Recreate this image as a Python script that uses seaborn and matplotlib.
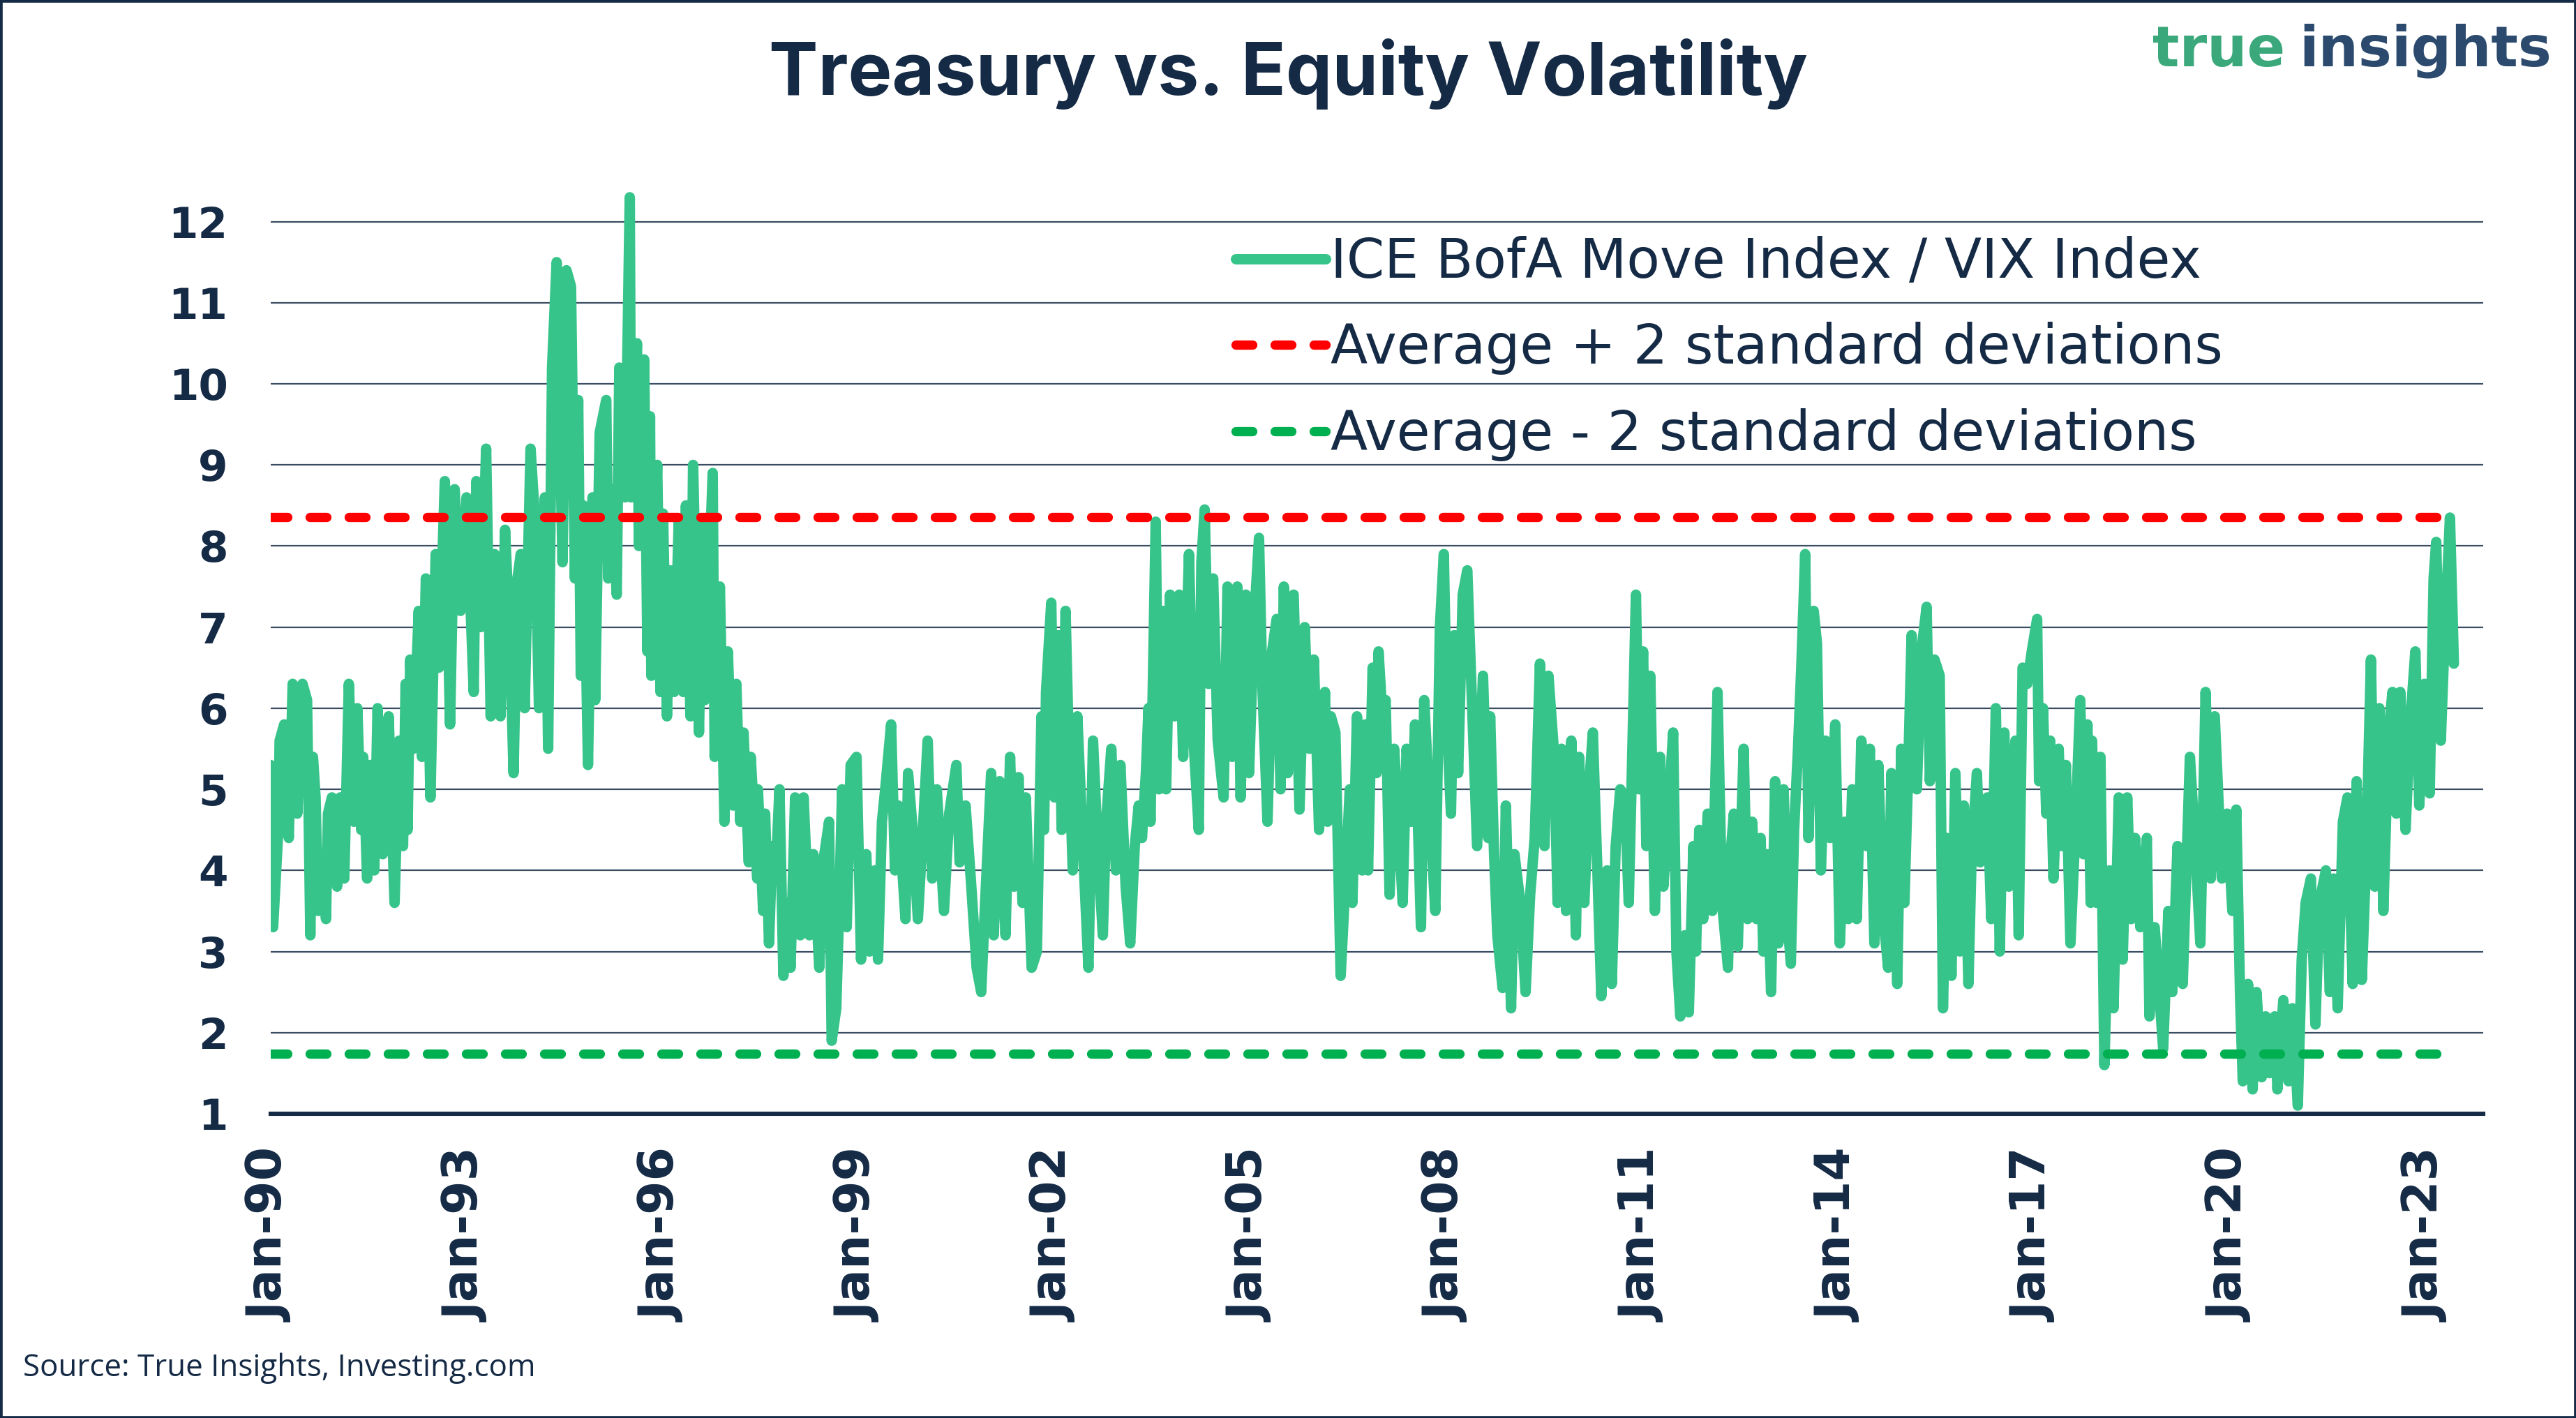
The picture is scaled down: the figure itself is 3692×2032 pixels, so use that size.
import numpy as np
import pandas as pd
import matplotlib
matplotlib.use("Agg")
import matplotlib.pyplot as plt
import matplotlib.dates as mdates
import seaborn as sns

sns.set_theme(style="white")
plt.rcParams['font.family'] = ['Inter', 'DejaVu Sans']

NAVY = "#152a45"
LINE_GREEN = "#37c48b"
RED = "#ff0000"
DASH_GREEN = "#00b050"

# ---- data (decimal year, MOVE / VIX ratio) ----
t_1990 = [1990.00, 1990.04, 1990.12, 1990.14, 1990.21, 1990.28, 1990.34, 1990.41, 1990.49, 1990.56,
          1990.61, 1990.65, 1990.69, 1990.73, 1990.77, 1990.85, 1990.88, 1990.94,
          1991.02, 1991.07, 1991.13, 1991.20, 1991.28, 1991.33, 1991.39, 1991.42, 1991.48, 1991.53,
          1991.59, 1991.64, 1991.72, 1991.81, 1991.90, 1991.97,
          1992.03, 1992.07, 1992.10, 1992.14, 1992.19, 1992.27, 1992.32, 1992.38, 1992.45, 1992.53,
          1992.58, 1992.67, 1992.75, 1992.82, 1992.91,
          1993.00, 1993.11, 1993.15, 1993.22, 1993.30, 1993.37, 1993.43, 1993.52, 1993.59, 1993.67,
          1993.72, 1993.78, 1993.83, 1993.89, 1993.98,
          1994.05, 1994.11, 1994.20, 1994.25, 1994.31, 1994.38, 1994.47, 1994.53, 1994.60, 1994.66,
          1994.71, 1994.75, 1994.79, 1994.86, 1994.93, 1994.97,
          1995.04, 1995.14, 1995.17, 1995.23, 1995.30, 1995.34, 1995.43, 1995.50]
v_1990 = [5.3, 3.3, 4.5, 5.6, 5.8, 4.4, 6.3, 4.7, 6.3, 6.1,
          3.2, 5.4, 4.9, 3.5, 4.2, 3.4, 4.7, 4.9,
          3.8, 4.9, 3.9, 6.3, 4.6, 6.0, 4.5, 5.4, 3.9, 5.3, 4.0, 6.0, 4.2, 5.9, 3.6, 5.6,
          4.3, 6.3, 4.5, 6.6, 5.5, 7.2, 5.4, 7.6, 4.9, 7.9, 6.5, 8.8, 5.8, 8.7, 7.2,
          8.6, 6.2, 8.8, 7.0, 9.2, 5.9, 7.9, 5.9, 8.2, 6.7, 5.2, 7.6, 7.9, 6.0, 9.2,
          8.3, 6.0, 8.6, 5.5, 10.2, 11.5, 7.8, 11.4, 11.2, 7.6, 9.8, 6.4, 8.5, 5.3, 8.6, 6.1,
          9.4, 9.8, 7.6, 8.7, 7.4, 10.2, 8.6, 12.3]

t_1995 = [1995.52, 1995.61, 1995.64, 1995.72, 1995.77, 1995.81, 1995.83, 1995.92, 1995.97, 1996.01,
          1996.07, 1996.12, 1996.18, 1996.25, 1996.32, 1996.36, 1996.43, 1996.47, 1996.56, 1996.62,
          1996.65, 1996.77, 1996.80, 1996.88, 1996.95, 1997.00, 1997.08, 1997.13, 1997.19, 1997.24,
          1997.32, 1997.35, 1997.45, 1997.46, 1997.54, 1997.57, 1997.63, 1997.68, 1997.74, 1997.79,
          1997.85, 1997.90, 1997.96, 1998.03, 1998.11, 1998.16, 1998.25, 1998.31, 1998.40, 1998.46,
          1998.55, 1998.59, 1998.66, 1998.71, 1998.75, 1998.82, 1998.88, 1998.97, 1999.04, 1999.12,
          1999.17, 1999.25, 1999.30, 1999.36, 1999.41, 1999.50, 1999.56, 1999.61, 1999.72, 1999.76,
          1999.83, 1999.91, 1999.98, 2000.06, 2000.13, 2000.20, 2000.31, 2000.39, 2000.50, 2000.55,
          2000.64, 2000.72, 2000.81, 2000.88, 2000.94, 2001.03, 2001.07, 2001.16]
v_1995 = [8.6, 10.5, 8.0, 10.3, 6.7, 9.6, 6.4, 9.0, 6.2, 8.4,
          5.9, 7.7, 6.2, 8.3, 6.2, 8.5, 5.9, 9.0, 5.7, 8.3,
          6.1, 8.9, 5.4, 7.5, 4.6, 6.7, 4.8, 6.3, 4.6, 5.7,
          4.1, 5.4, 3.9, 5.0, 3.5, 4.7, 3.1, 4.3, 4.1, 5.0,
          2.7, 3.6, 2.8, 4.9, 3.2, 4.9, 3.2, 4.2, 2.8, 4.1,
          4.6, 1.9, 2.3, 3.7, 5.0, 3.3, 5.3, 5.4, 2.9, 4.2,
          3.0, 4.0, 2.9, 4.6, 5.0, 5.8, 4.0, 4.8, 3.4, 5.2,
          4.5, 3.4, 4.4, 5.6, 3.9, 5.0, 3.5, 4.7, 5.3, 4.1,
          4.8, 3.9, 2.8, 2.5, 3.6, 5.2, 3.2, 5.1]

t_2001 = [2001.25, 2001.32, 2001.38, 2001.45, 2001.51, 2001.56, 2001.65, 2001.73, 2001.80, 2001.84,
          2001.87, 2001.95, 2002.00, 2002.06, 2002.11, 2002.17, 2002.22, 2002.28, 2002.35, 2002.43,
          2002.52, 2002.59, 2002.65, 2002.74, 2002.79, 2002.87, 2002.94, 2003.01, 2003.09, 2003.16,
          2003.23, 2003.29, 2003.34, 2003.40, 2003.44, 2003.47, 2003.55, 2003.60, 2003.66, 2003.71,
          2003.77, 2003.84, 2003.91, 2003.97, 2004.06, 2004.13, 2004.21, 2004.25, 2004.30, 2004.36,
          2004.43, 2004.50, 2004.59, 2004.65, 2004.72, 2004.80, 2004.85, 2004.93, 2004.98, 2005.05,
          2005.13, 2005.18, 2005.26, 2005.33, 2005.40, 2005.46, 2005.51, 2005.57, 2005.66, 2005.75,
          2005.83, 2005.90, 2005.97, 2006.05, 2006.14, 2006.18, 2006.23, 2006.30, 2006.38, 2006.45,
          2006.52, 2006.56, 2006.63, 2006.71]
v_2001 = [3.2, 5.4, 3.8, 5.15, 3.6, 4.9, 2.8, 3.0, 5.9, 4.5,
          6.2, 7.3, 4.9, 6.9, 4.5, 7.2, 5.5, 4.0, 5.9, 4.4,
          2.8, 5.6, 4.5, 3.2, 4.6, 5.5, 4.0, 5.3, 3.8, 3.1,
          4.3, 4.8, 4.4, 5.2, 6.0, 4.6, 8.3, 5.0, 7.2, 5.0,
          7.4, 5.9, 7.4, 5.4, 7.9, 5.6, 4.5, 7.8, 8.45, 6.3,
          7.6, 5.6, 4.9, 7.5, 5.4, 7.5, 4.9, 7.4, 5.2, 7.0,
          8.1, 6.3, 4.6, 6.7, 7.1, 5.0, 7.5, 5.2, 7.4, 4.75,
          7.0, 5.5, 6.6, 4.5, 6.2, 4.6, 5.9, 5.7, 2.7, 3.8,
          5.0, 3.6, 5.9, 4.0]

t_2006 = [2006.76, 2006.80, 2006.87, 2006.93, 2006.96, 2007.02, 2007.07, 2007.13, 2007.20, 2007.28,
          2007.33, 2007.39, 2007.46, 2007.52, 2007.61, 2007.66, 2007.74, 2007.83, 2007.90, 2007.96,
          2008.01, 2008.07, 2008.12, 2008.18, 2008.25, 2008.32, 2008.40, 2008.47, 2008.56, 2008.64,
          2008.67, 2008.73, 2008.78, 2008.86, 2008.91, 2008.99, 2009.04, 2009.13, 2009.21, 2009.28,
          2009.35, 2009.43, 2009.50, 2009.56, 2009.65, 2009.70, 2009.76, 2009.83, 2009.91, 2009.98,
          2010.03, 2010.11, 2010.18, 2010.24, 2010.31, 2010.37, 2010.46, 2010.53, 2010.59, 2010.66,
          2010.73, 2010.79, 2010.84, 2010.90, 2010.95, 2011.01, 2011.06, 2011.12, 2011.19, 2011.27,
          2011.32, 2011.41, 2011.47, 2011.52, 2011.58, 2011.65, 2011.71, 2011.78, 2011.82, 2011.87,
          2011.93, 2012.00, 2012.07, 2012.15, 2012.22]
v_2006 = [5.8, 4.0, 6.5, 5.2, 6.7, 5.9, 6.1, 3.7, 5.5, 4.4,
          3.6, 5.5, 4.6, 5.8, 3.3, 6.1, 4.8, 3.5, 7.0, 7.9,
          5.8, 4.7, 6.9, 5.2, 7.4, 7.7, 5.9, 4.3, 6.4, 4.4,
          5.9, 4.2, 3.2, 2.55, 4.8, 2.3, 4.2, 3.6, 2.5, 3.7,
          4.4, 6.55, 4.3, 6.4, 5.4, 3.6, 5.5, 3.5, 5.6, 3.2,
          5.4, 3.6, 5.0, 5.7, 4.0, 2.45, 4.0, 2.6, 4.3, 5.0,
          4.9, 3.6, 5.3, 7.4, 5.0, 6.7, 4.3, 6.4, 3.5, 5.4,
          3.8, 4.9, 5.7, 3.0, 2.2, 3.2, 2.25, 4.3, 3.0, 4.5,
          3.4, 4.7, 3.5, 6.2, 3.6]

t_2012 = [2012.31, 2012.35, 2012.40, 2012.46, 2012.55, 2012.61, 2012.68, 2012.75, 2012.81, 2012.85,
          2012.90, 2012.97, 2013.03, 2013.08, 2013.16, 2013.21, 2013.27, 2013.32, 2013.38, 2013.43,
          2013.49, 2013.54, 2013.62, 2013.67, 2013.73, 2013.80, 2013.87, 2013.95, 2014.02, 2014.10,
          2014.15, 2014.21, 2014.28, 2014.35, 2014.43, 2014.48, 2014.55, 2014.61, 2014.68, 2014.76,
          2014.81, 2014.90, 2014.96, 2015.01, 2015.07, 2015.12, 2015.20, 2015.27, 2015.35, 2015.40,
          2015.47, 2015.55, 2015.60, 2015.66, 2015.73, 2015.79, 2015.86, 2015.92, 2015.99, 2016.04,
          2016.12, 2016.17, 2016.23, 2016.28, 2016.34, 2016.41, 2016.47, 2016.54, 2016.61, 2016.71,
          2016.76, 2016.82, 2016.89, 2016.96, 2017.04, 2017.07, 2017.13, 2017.18, 2017.24, 2017.29,
          2017.37, 2017.42, 2017.48, 2017.55, 2017.62, 2017.70, 2017.75, 2017.81, 2017.86]
v_2012 = [2.8, 4.2, 4.7, 3.06, 5.5, 3.4, 4.6, 3.4, 4.4, 3.0,
          4.2, 2.5, 5.1, 3.1, 5.0, 3.5, 2.85, 4.5, 5.5, 6.5,
          7.9, 4.4, 7.2, 6.8, 4.0, 5.6, 4.4, 5.8, 3.1, 4.6,
          3.4, 5.0, 3.4, 5.6, 4.3, 5.5, 3.1, 5.3, 3.5, 2.8,
          5.2, 2.6, 5.5, 3.6, 5.3, 6.9, 5.0, 6.7, 7.25, 5.1,
          6.6, 6.4, 2.3, 4.4, 2.7, 5.2, 3.0, 4.8, 2.6, 4.2,
          5.2, 4.1, 4.4, 4.9, 3.4, 6.0, 3.0, 5.7, 3.8, 5.6,
          3.2, 6.5, 6.3, 6.7, 7.1, 5.1, 6.0, 4.7, 5.6, 3.9,
          5.5, 4.3, 5.3, 3.1, 4.4, 6.1, 4.2, 5.8, 3.6]

t_2017 = [2017.88, 2017.95, 2018.01, 2018.07, 2018.15, 2018.21, 2018.29, 2018.35, 2018.42, 2018.48,
          2018.54, 2018.62, 2018.72, 2018.76, 2018.84, 2018.97, 2019.05, 2019.11, 2019.19, 2019.27,
          2019.38, 2019.46, 2019.54, 2019.62, 2019.70, 2019.76, 2019.87, 2019.95, 2020.03, 2020.09,
          2020.15, 2020.19, 2020.27, 2020.34, 2020.40, 2020.48, 2020.54, 2020.60, 2020.68, 2020.72,
          2020.81, 2020.89, 2020.95, 2021.03, 2021.09, 2021.15, 2021.23, 2021.30, 2021.36, 2021.46,
          2021.52, 2021.58, 2021.64, 2021.72, 2021.79, 2021.87, 2021.93, 2022.01, 2022.07, 2022.15,
          2022.21, 2022.28, 2022.34, 2022.42, 2022.48, 2022.54, 2022.60, 2022.68, 2022.75, 2022.83,
          2022.89, 2022.97, 2023.05, 2023.11, 2023.15, 2023.22, 2023.28, 2023.36, 2023.42]
v_2017 = [5.6, 3.6, 5.4, 1.6, 4.0, 2.3, 4.9, 2.9, 4.9, 3.4,
          4.4, 3.3, 4.4, 2.2, 3.3, 1.8, 3.5, 2.5, 4.3, 2.6,
          5.4, 4.3, 3.1, 6.2, 3.9, 5.9, 3.9, 4.7, 3.5, 4.75,
          2.4, 1.4, 2.6, 1.3, 2.5, 1.45, 2.2, 1.5, 2.2, 1.3,
          2.4, 1.4, 2.3, 1.1, 2.9, 3.6, 3.9, 2.1, 3.6, 4.0,
          2.5, 3.9, 2.3, 4.6, 4.9, 2.6, 5.1, 2.65, 4.0, 6.6,
          3.8, 6.0, 3.5, 5.7, 6.2, 4.7, 6.2, 4.5, 5.8, 6.7,
          4.8, 6.3, 4.95, 7.6, 8.05, 5.6, 6.9, 8.35, 6.55]

upper_band = 8.36   # average + 2 standard deviations
lower_band = 1.74   # average - 2 standard deviations

series_label = "ICE BofA Move Index / VIX Index"
upper_label = "Average + 2 standard deviations"
lower_label = "Average - 2 standard deviations"

tick_years = [1990, 1993, 1996, 1999, 2002, 2005, 2008, 2011, 2014, 2017, 2020, 2023]


def to_date(y):
    yr = int(y)
    return pd.Timestamp(year=yr, month=1, day=1) + pd.Timedelta(days=(y - yr) * 365.25)


years = t_1990 + t_1995 + t_2001 + t_2006 + t_2012 + t_2017
ratio = v_1990 + v_1995 + v_2001 + v_2006 + v_2012 + v_2017
df = pd.DataFrame({"date": [to_date(y) for y in years], "ratio": ratio})

fig = plt.figure(figsize=(18.46, 10.16), dpi=200)
ax = fig.add_axes([0.105, 0.2146, 0.859, 0.652])

sns.lineplot(data=df, x="date", y="ratio", ax=ax, color=LINE_GREEN, lw=5.4,
             sort=False, estimator=None, label=series_label,
             solid_joinstyle="round", solid_capstyle="round")

band_x = [df["date"].iloc[0], df["date"].iloc[-1]]
ax.plot(band_x, [upper_band, upper_band], color=RED, lw=4.8, dashes=(1.8, 2.4),
        dash_capstyle="round", label=upper_label)
ax.plot(band_x, [lower_band, lower_band], color=DASH_GREEN, lw=4.8, dashes=(1.8, 2.4),
        dash_capstyle="round", label=lower_label)

# axes styling
ax.set_xlim(to_date(1990.0), to_date(2023.87))
ax.set_ylim(1, 12.4)
ax.set_yticks(range(1, 13))
ax.set_xticks([pd.Timestamp(year=y, month=1, day=1) for y in tick_years])
ax.xaxis.set_major_formatter(mdates.DateFormatter("%b-%y"))
ax.set_xlabel("")
ax.set_ylabel("")
ax.yaxis.grid(True, color="#3a4d62", lw=0.8)
ax.xaxis.grid(False)
ax.set_axisbelow(True)
for s in ["left", "right", "top"]:
    ax.spines[s].set_visible(False)
ax.spines["bottom"].set_color(NAVY)
ax.spines["bottom"].set_linewidth(2.2)
ax.tick_params(axis="both", length=0, labelcolor=NAVY)
ax.tick_params(axis="y", pad=22, labelsize=22)
ax.tick_params(axis="x", pad=18, labelsize=25)
for lab in ax.get_xticklabels() + ax.get_yticklabels():
    lab.set_fontweight("bold")
    lab.set_fontfamily(["DejaVu Sans"])
for lab in ax.get_xticklabels():
    lab.set_rotation(90)

leg = ax.legend(loc="upper left", bbox_to_anchor=(0.4265, 0.973), frameon=False,
                handlelength=1.66, handletextpad=0.09, labelspacing=0.61,
                borderaxespad=0, prop={"family": ["DejaVu Sans"], "size": 28})
for txt in leg.get_texts():
    txt.set_color(NAVY)

# title, logo, source, frame
fig.text(0.5, 1 - 106 / 2032, "Treasury vs. Equity Volatility", ha="center", va="center",
         fontsize=38, fontweight="bold", color=NAVY)
logo2 = fig.text(3657 / 3692, 1 - 95 / 2032, "insights", ha="right", va="baseline",
                 fontsize=29, fontweight="bold", color="#2b4a6e", family=["DejaVu Sans"])
fig.canvas.draw()
bb = logo2.get_window_extent()
fig.text((bb.x0 - 20) / fig.bbox.width, 1 - 95 / 2032, "true", ha="right", va="baseline",
         fontsize=29, fontweight="bold", color="#3aa87b", family=["DejaVu Sans"])
fig.text(33 / 3692, 1 - 1961 / 2032, "Source: True Insights, Investing.com", ha="left",
         va="center", fontsize=15.8, color=NAVY, family=["Open Sans", "DejaVu Sans"])
fig.add_artist(plt.Rectangle((0, 0), 1, 1, transform=fig.transFigure, fill=False,
                             edgecolor=NAVY, lw=2.4))

fig.savefig("out.png", dpi=200)
